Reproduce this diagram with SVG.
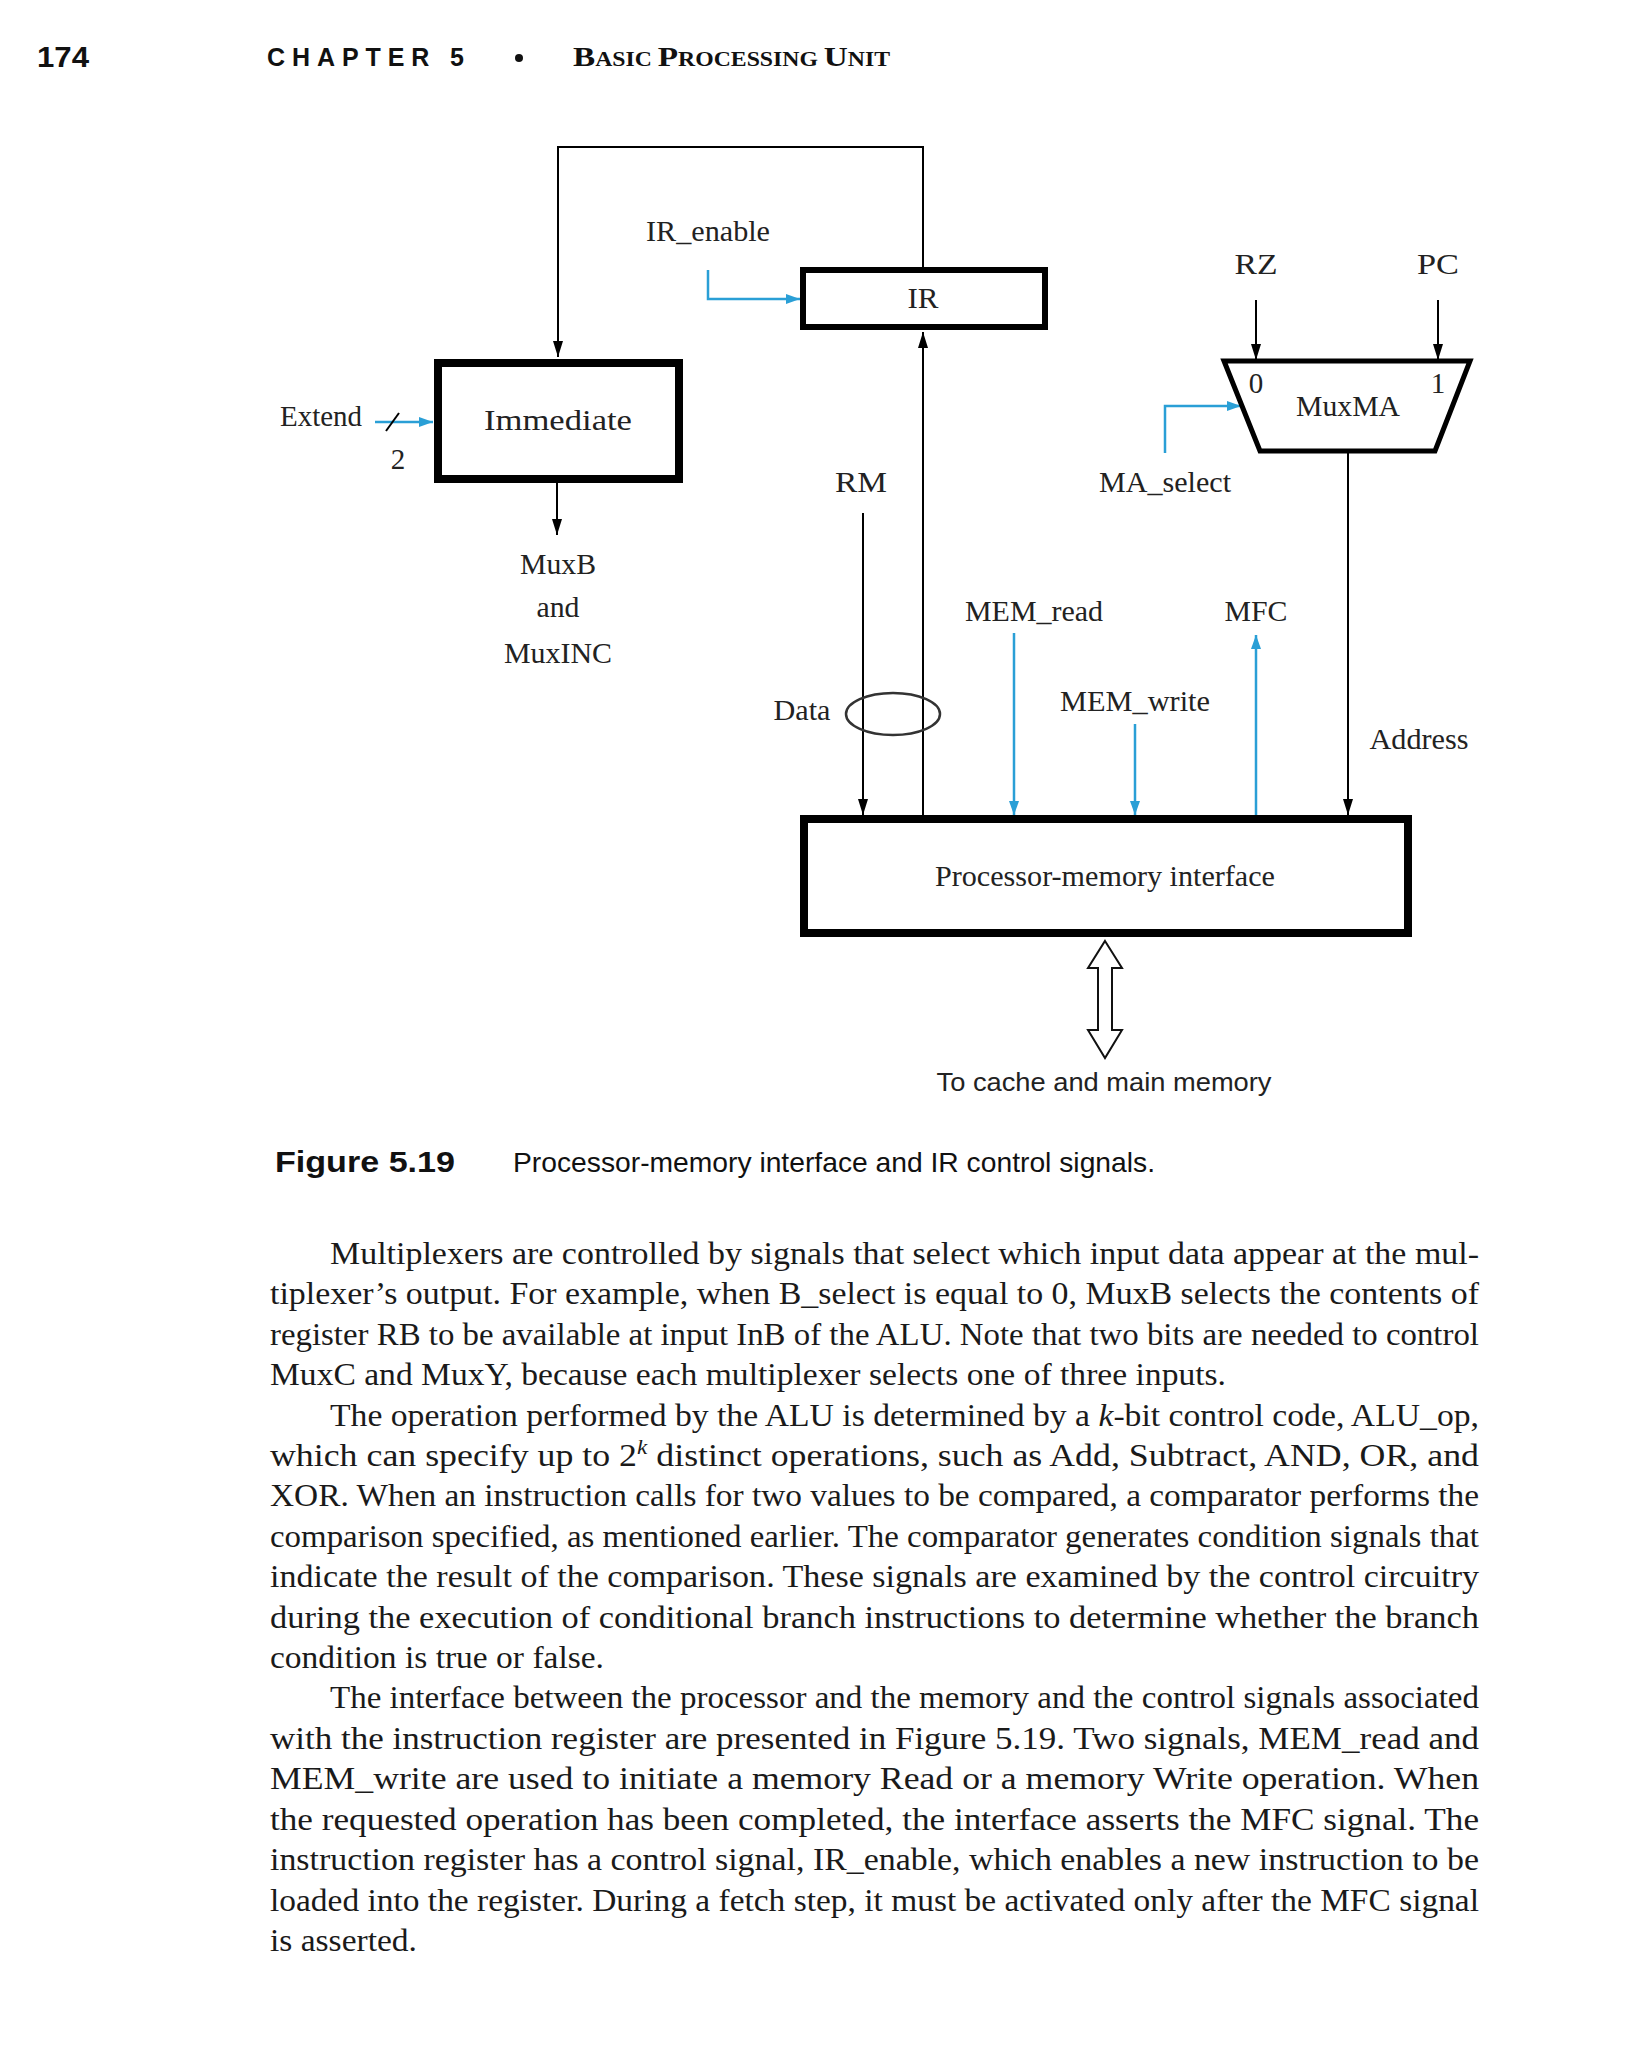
<svg xmlns="http://www.w3.org/2000/svg" width="1632" height="2046" viewBox="0 0 1632 2046">
<style>
.lbl{font-family:"Liberation Serif","Times New Roman",serif;font-size:29px;fill:#222;text-anchor:middle}
.body{font-family:"Liberation Serif","Times New Roman",serif;font-size:31px;fill:#1a1a1a}
.w{stroke:#000;stroke-width:2;fill:none}
.c{stroke:#2a9fd6;stroke-width:2.5;fill:none}
.box{fill:#fff;stroke:#000}
</style>
<defs>
<marker id="ab" markerUnits="userSpaceOnUse" markerWidth="16" markerHeight="10" refX="16" refY="5" orient="auto"><path d="M0,0 L16,5 L0,10 z" fill="#000"/></marker>
<marker id="ac" markerUnits="userSpaceOnUse" markerWidth="14" markerHeight="10" refX="14" refY="5" orient="auto"><path d="M0,0 L14,5 L0,10 z" fill="#2a9fd6"/></marker>
</defs>
<rect width="1632" height="2046" fill="#fff"/>

<g id="header">
<text x="37" y="67" font-family="Liberation Sans, Arial, sans-serif" font-weight="bold" font-size="30" fill="#111" textLength="52" lengthAdjust="spacingAndGlyphs">174</text>
<text x="267" y="66" font-family="Liberation Sans, Arial, sans-serif" font-weight="bold" font-size="25" fill="#111" textLength="197" lengthAdjust="spacing">CHAPTER 5</text>
<circle cx="519" cy="58" r="4" fill="#111"/>
<text x="573" y="66" font-family="Liberation Serif, Times New Roman, serif" font-weight="bold" fill="#111" textLength="317" lengthAdjust="spacingAndGlyphs"><tspan font-size="28">B</tspan><tspan font-size="20">ASIC </tspan><tspan font-size="28">P</tspan><tspan font-size="20">ROCESSING </tspan><tspan font-size="28">U</tspan><tspan font-size="20">NIT</tspan></text>
</g>

<g id="connectors">
<polyline class="w" points="923,267 923,147 558,147 558,357" marker-end="url(#ab)"/>
<line class="w" x1="557" y1="483" x2="557" y2="535" marker-end="url(#ab)"/>
<line class="w" x1="923" y1="815" x2="923" y2="332" marker-end="url(#ab)"/>
<line class="w" x1="863" y1="513" x2="863" y2="815" marker-end="url(#ab)"/>
<line class="w" x1="1256" y1="300" x2="1256" y2="360" marker-end="url(#ab)"/>
<line class="w" x1="1438" y1="300" x2="1438" y2="360" marker-end="url(#ab)"/>
<line class="w" x1="1348" y1="452" x2="1348" y2="815" marker-end="url(#ab)"/>
<polyline class="c" points="708,270 708,299 800,299" marker-end="url(#ac)"/>
<line class="c" x1="375" y1="422" x2="433" y2="422" marker-end="url(#ac)"/>
<line x1="386" y1="431" x2="399" y2="413" stroke="#000" stroke-width="2"/>
<polyline class="c" points="1165,453 1165,406 1241,406" marker-end="url(#ac)"/>
<line class="c" x1="1014" y1="633" x2="1014" y2="815" marker-end="url(#ac)"/>
<line class="c" x1="1135" y1="724" x2="1135" y2="815" marker-end="url(#ac)"/>
<line class="c" x1="1256" y1="815" x2="1256" y2="635" marker-end="url(#ac)"/>
<ellipse cx="893" cy="714" rx="47" ry="21" fill="none" stroke="#333" stroke-width="2.5"/>
<polygon points="1105,941 1122,968 1112,968 1112,1030 1122,1030 1105,1058 1088,1030 1098,1030 1098,968 1088,968" fill="#fff" stroke="#111" stroke-width="2"/>
</g>

<g id="ir">
<rect class="box" x="803" y="270" width="242" height="57" stroke-width="6"/>
<text class="lbl" x="923" y="308" textLength="31" lengthAdjust="spacingAndGlyphs">IR</text>
</g>
<g id="immediate">
<rect class="box" x="438" y="363" width="241" height="116" stroke-width="8"/>
<text class="lbl" x="558" y="430" textLength="148" lengthAdjust="spacingAndGlyphs">Immediate</text>
</g>
<g id="muxma">
<polygon class="box" points="1224,361 1470,361 1435,451 1260,451" stroke-width="5"/>
<text class="lbl" x="1256" y="393" font-size="24">0</text>
<text class="lbl" x="1438" y="393" font-size="24">1</text>
<text class="lbl" x="1348" y="416" textLength="104" lengthAdjust="spacingAndGlyphs">MuxMA</text>
</g>
<g id="pmi">
<rect class="box" x="804" y="819" width="604" height="114" stroke-width="8"/>
<text class="lbl" x="1105" y="886" textLength="340" lengthAdjust="spacingAndGlyphs">Processor-memory interface</text>
</g>

<g id="labels">
<text class="lbl" x="708" y="241" textLength="124" lengthAdjust="spacingAndGlyphs">IR_enable</text>
<text class="lbl" x="321" y="426" textLength="82" lengthAdjust="spacingAndGlyphs">Extend</text>
<text class="lbl" x="398" y="469">2</text>
<text class="lbl" x="558" y="574" textLength="76" lengthAdjust="spacingAndGlyphs">MuxB</text>
<text class="lbl" x="558" y="617" textLength="43" lengthAdjust="spacingAndGlyphs">and</text>
<text class="lbl" x="558" y="663" textLength="108" lengthAdjust="spacingAndGlyphs">MuxINC</text>
<text class="lbl" x="861" y="492" textLength="52" lengthAdjust="spacingAndGlyphs">RM</text>
<text class="lbl" x="1256" y="274" textLength="43" lengthAdjust="spacingAndGlyphs">RZ</text>
<text class="lbl" x="1438" y="274" textLength="42" lengthAdjust="spacingAndGlyphs">PC</text>
<text class="lbl" x="1165" y="492" textLength="132" lengthAdjust="spacingAndGlyphs">MA_select</text>
<text class="lbl" x="1034" y="621" textLength="138" lengthAdjust="spacingAndGlyphs">MEM_read</text>
<text class="lbl" x="1256" y="621" textLength="63" lengthAdjust="spacingAndGlyphs">MFC</text>
<text class="lbl" x="1135" y="711" textLength="150" lengthAdjust="spacingAndGlyphs">MEM_write</text>
<text class="lbl" x="802" y="720" textLength="57" lengthAdjust="spacingAndGlyphs">Data</text>
<text class="lbl" x="1419" y="749" textLength="99" lengthAdjust="spacingAndGlyphs">Address</text>
<text x="1104" y="1091" font-family="Liberation Sans, Arial, sans-serif" font-size="26" fill="#222" text-anchor="middle" textLength="335" lengthAdjust="spacingAndGlyphs">To cache and main memory</text>
</g>

<g id="caption">
<text x="275" y="1172" font-family="Liberation Sans, Arial, sans-serif" font-weight="bold" font-size="30" fill="#111" textLength="180" lengthAdjust="spacingAndGlyphs">Figure 5.19</text>
<text x="513" y="1172" font-family="Liberation Sans, Arial, sans-serif" font-size="28" fill="#111" textLength="642" lengthAdjust="spacingAndGlyphs">Processor-memory interface and IR control signals.</text>
</g>

<g id="bodytext" class="body">
<text x="330" y="1264" textLength="1149" lengthAdjust="spacingAndGlyphs">Multiplexers are controlled by signals that select which input data appear at the mul-</text>
<text x="270" y="1304" textLength="1209" lengthAdjust="spacingAndGlyphs">tiplexer’s output. For example, when B_select is equal to 0, MuxB selects the contents of</text>
<text x="270" y="1345" textLength="1209" lengthAdjust="spacingAndGlyphs">register RB to be available at input InB of the ALU. Note that two bits are needed to control</text>
<text x="270" y="1385" textLength="956" lengthAdjust="spacingAndGlyphs">MuxC and MuxY, because each multiplexer selects one of three inputs.</text>
<text x="330" y="1426" textLength="1149" lengthAdjust="spacingAndGlyphs">The operation performed by the ALU is determined by a <tspan font-style="italic">k</tspan>-bit control code, ALU_op,</text>
<text x="270" y="1466" textLength="1209" lengthAdjust="spacingAndGlyphs">which can specify up to 2<tspan font-size="20" font-style="italic" dy="-12">k</tspan><tspan dy="12"> distinct operations, such as Add, Subtract, AND, OR, and</tspan></text>
<text x="270" y="1506" textLength="1209" lengthAdjust="spacingAndGlyphs">XOR. When an instruction calls for two values to be compared, a comparator performs the</text>
<text x="270" y="1547" textLength="1209" lengthAdjust="spacingAndGlyphs">comparison specified, as mentioned earlier. The comparator generates condition signals that</text>
<text x="270" y="1587" textLength="1209" lengthAdjust="spacingAndGlyphs">indicate the result of the comparison. These signals are examined by the control circuitry</text>
<text x="270" y="1628" textLength="1209" lengthAdjust="spacingAndGlyphs">during the execution of conditional branch instructions to determine whether the branch</text>
<text x="270" y="1668" textLength="334" lengthAdjust="spacingAndGlyphs">condition is true or false.</text>
<text x="330" y="1708" textLength="1149" lengthAdjust="spacingAndGlyphs">The interface between the processor and the memory and the control signals associated</text>
<text x="270" y="1749" textLength="1209" lengthAdjust="spacingAndGlyphs">with the instruction register are presented in Figure 5.19.  Two signals, MEM_read and</text>
<text x="270" y="1789" textLength="1209" lengthAdjust="spacingAndGlyphs">MEM_write are used to initiate a memory Read or a memory Write operation.  When</text>
<text x="270" y="1830" textLength="1209" lengthAdjust="spacingAndGlyphs">the requested operation has been completed, the interface asserts the MFC signal.  The</text>
<text x="270" y="1870" textLength="1209" lengthAdjust="spacingAndGlyphs">instruction register has a control signal, IR_enable, which enables a new instruction to be</text>
<text x="270" y="1911" textLength="1209" lengthAdjust="spacingAndGlyphs">loaded into the register. During a fetch step, it must be activated only after the MFC signal</text>
<text x="270" y="1951" textLength="147" lengthAdjust="spacingAndGlyphs">is asserted.</text>
</g>
</svg>
